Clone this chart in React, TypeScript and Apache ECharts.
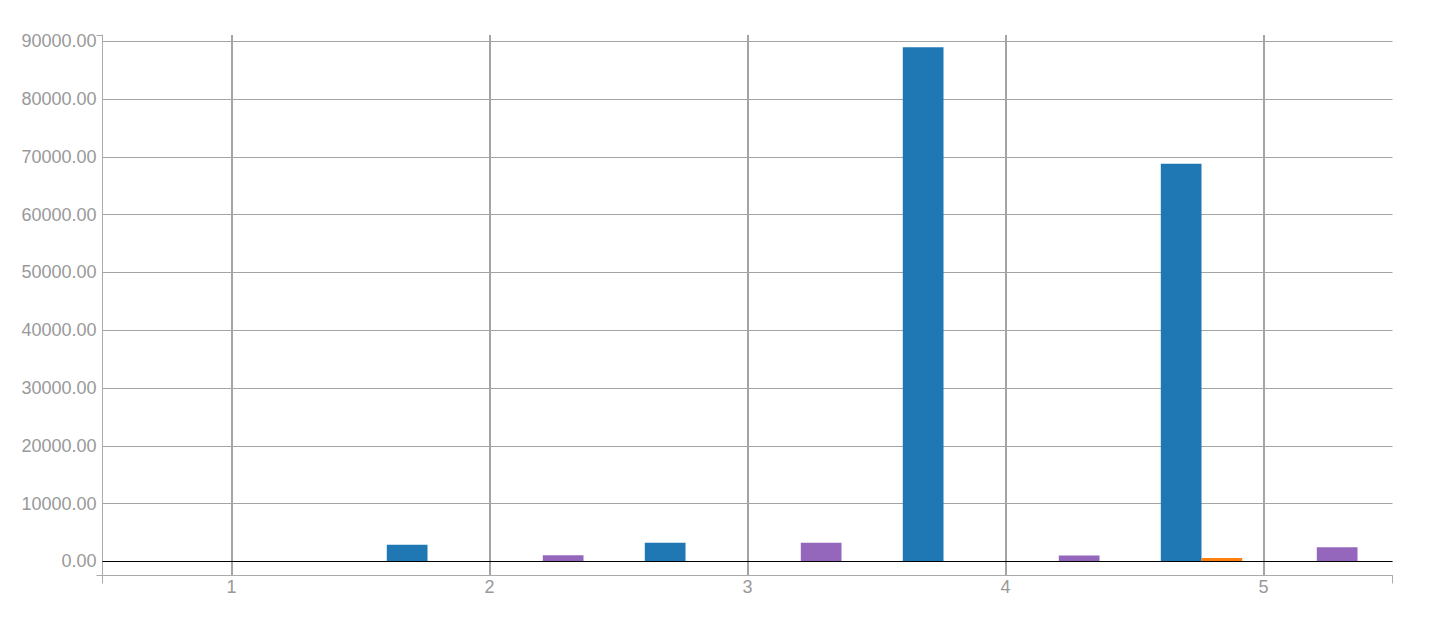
import React, { useEffect, useRef } from "react";
import * as echarts from "echarts";

// ---- data ----
const categories = ["1", "2", "3", "4", "5"];
const seriesNames = ["data1", "data2", "data3", "data4", "data5"];
const blueValues = [0, 2870, 3230, 88950, 68800];
const orangeValues = [0, 0, 0, 0, 570];
const greenValues = [0, 0, 0, 0, 0];
const redValues = [0, 0, 0, 0, 0];
const purpleValues = [0, 1040, 3230, 1000, 2420];
const yMin = -2450;
const yMax = 91090;
const yDecimals = 2;

const seriesColors = ["#1f77b4", "#ff7f0e", "#2ca02c", "#d62728", "#9467bd"];
const FONT = "'Liberation Sans', Arial, Helvetica, sans-serif";

export default function App() {
  const ref = useRef<HTMLDivElement | null>(null);

  useEffect(() => {
    document.body.style.margin = "0";
    if (!ref.current) return;
    const chart = echarts.init(ref.current, null, { renderer: "svg" });

    const valueSets = [blueValues, orangeValues, greenValues, redValues, purpleValues];
    const widths = [40.7, 40.7, 37.3, 37.3, 40.7];

    const series: any[] = valueSets.map((vals, i) => ({
      type: "bar",
      name: seriesNames[i],
      data: vals,
      barWidth: widths[i],
      barGap: "0%",
      itemStyle: { color: seriesColors[i] },
      silent: true,
      emphasis: { disabled: true },
    }));
    // black zero line
    series[0].markLine = {
      silent: true,
      symbol: ["none", "none"],
      label: { show: false },
      lineStyle: { color: "#000", width: 1, type: "solid" },
      data: [{ yAxis: 0 }],
    };
    // layout spacer (no data) so the bar groups sit as in the reference
    series.push({
      type: "bar",
      name: "",
      data: [],
      barWidth: 8.7,
      barGap: "0%",
      silent: true,
    });

    const option: any = {
      animation: false,
      backgroundColor: "#ffffff",
      textStyle: { fontFamily: FONT },
      grid: {
        left: 102.5,
        top: 35,
        width: 1290,
        height: 540.5,
        containLabel: false,
        outerBoundsMode: "none",
      },
      xAxis: [
        {
          type: "category",
          data: categories,
          boundaryGap: true,
          axisLine: { show: true, onZero: false, lineStyle: { color: "#aaaaaa", width: 1 } },
          axisTick: {
            show: true,
            interval: (i: number) => i === 0,
            length: 8,
            lineStyle: { color: "#aaaaaa", width: 1 },
          },
          axisLabel: {
            color: "#999999",
            fontSize: 18,
            fontFamily: FONT,
            margin: 2,
            interval: 0,
          },
          splitLine: {
            show: true,
            interval: 0,
            alignWithLabel: true,
            lineStyle: { color: "#a4a4a4", width: 2 },
          },
        },
      ],
      yAxis: [
        {
          type: "value",
          position: "left",
          min: yMin,
          max: yMax,
          splitNumber: 9,
          axisLine: { show: false, onZero: false },
          axisTick: { show: false },
          axisLabel: {
            color: "#999999",
            fontSize: 18,
            fontFamily: FONT,
            margin: 6,
            showMinLabel: false,
            showMaxLabel: false,
            formatter: (v: number) => v.toFixed(yDecimals),
          },
          splitLine: {
            show: true,
            showMinLine: false,
            showMaxLine: false,
            lineStyle: { color: "#a4a4a4", width: 1 },
          },
        },
        {
          type: "value",
          position: "left",
          min: 0,
          max: 1,
          interval: 1,
          axisLine: { show: true, onZero: false, lineStyle: { color: "#aaaaaa", width: 1 } },
          axisTick: { show: true, length: 6, lineStyle: { color: "#aaaaaa", width: 1 } },
          axisLabel: { show: false },
          splitLine: { show: false },
        },
      ],
      series,
    };

    chart.setOption(option);
    return () => {
      chart.dispose();
    };
  }, []);

  return <div ref={ref} style={{ width: 1438, height: 619 }} />;
}
